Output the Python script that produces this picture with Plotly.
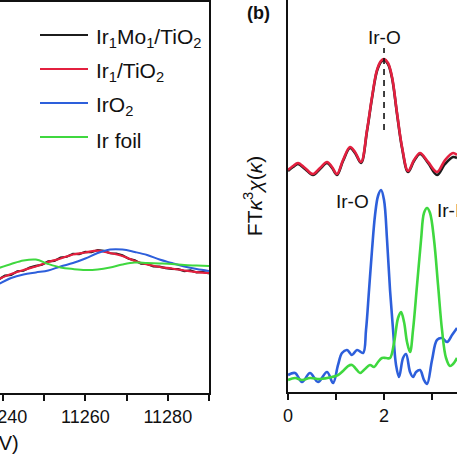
import plotly.graph_objects as go

W = H = 457
FONT = "Arial, 'Liberation Sans', sans-serif"

# ---------------- Panel (a): Ir L3-edge XANES ----------------
energy = [11239, 11242, 11245, 11248, 11251, 11254, 11257, 11260, 11263,
          11266, 11269, 11272, 11275, 11278, 11281, 11284, 11287, 11290]
ir1_tio2 = [0.875, 0.913, 0.944, 0.971, 1.005, 1.032, 1.063, 1.078, 1.093,
            1.074, 1.051, 1.013, 0.986, 0.967, 0.955, 0.940, 0.928, 0.921]
iro2 = [0.836, 0.882, 0.909, 0.925, 0.940, 0.971, 0.997, 1.032, 1.074,
        1.101, 1.101, 1.082, 1.059, 1.024, 0.997, 0.971, 0.951, 0.936]
ir_foil = [0.959, 0.990, 1.017, 1.024, 0.990, 0.963, 0.951, 0.944, 0.948,
           0.963, 0.986, 1.001, 0.997, 0.994, 0.990, 0.982, 0.978, 0.974]

energy_fine = [11239, 11240.5, 11242, 11243.5, 11245, 11246.5, 11248, 11249.5,
               11251, 11252.5, 11254, 11255.5, 11257, 11258.5, 11260, 11261.5,
               11263, 11264.5, 11266, 11267.5, 11269, 11270.5, 11272, 11273.5,
               11275, 11276.5, 11278, 11279.5, 11281, 11282.5, 11284, 11285.5,
               11287, 11288.5, 11290]
ir1mo1_tio2 = [0.872, 0.901, 0.905, 0.934, 0.938, 0.962, 0.975, 0.984,
               1.010, 1.014, 1.040, 1.045, 1.068, 1.066, 1.083, 1.080,
               1.097, 1.090, 1.072, 1.070, 1.056, 1.030, 1.018, 0.992,
               0.990, 0.972, 0.970, 0.958, 0.952, 0.950, 0.935, 0.940,
               0.925, 0.930, 0.918]

# ---------------- Panel (b): FT-EXAFS ----------------
r_top = [0.000, 0.104, 0.208, 0.354, 0.521, 0.667, 0.813, 0.917, 1.021, 1.146,
         1.292, 1.396, 1.521, 1.646, 1.750, 1.854, 1.938, 2.000, 2.083, 2.167,
         2.271, 2.375, 2.500, 2.625, 2.750, 2.917, 3.104, 3.271, 3.438, 3.521]
ft_ir1_tio2 = [2.265, 2.306, 2.337, 2.286, 2.224, 2.286, 2.347, 2.296, 2.224, 2.367,
               2.500, 2.449, 2.347, 2.673, 3.010, 3.286, 3.378, 3.398, 3.357, 3.214,
               2.847, 2.500, 2.255, 2.367, 2.439, 2.347, 2.245, 2.367, 2.439, 2.418]
ft_ir1mo1_tio2 = [2.255, 2.296, 2.327, 2.276, 2.214, 2.276, 2.337, 2.286, 2.214, 2.357,
                  2.490, 2.439, 2.337, 2.663, 3.000, 3.276, 3.368, 3.388, 3.347, 3.204,
                  2.837, 2.490, 2.245, 2.357, 2.429, 2.337, 2.214, 2.327, 2.398, 2.388]

r_iro2 = [0.000, 0.146, 0.292, 0.458, 0.625, 0.813, 0.938, 1.042, 1.125, 1.229,
          1.333, 1.438, 1.563, 1.625, 1.688, 1.750, 1.813, 1.875, 1.938, 2.000,
          2.063, 2.125, 2.188, 2.250, 2.313, 2.396, 2.458, 2.542, 2.604, 2.667,
          2.750, 2.833, 2.896, 3.000, 3.104, 3.208, 3.313, 3.417, 3.521]
ft_iro2 = [0.173, 0.194, 0.102, 0.194, 0.102, 0.204, 0.092, 0.276, 0.398, 0.429,
           0.378, 0.429, 0.398, 0.633, 1.041, 1.449, 1.806, 2.000, 2.061, 1.959,
           1.551, 1.041, 0.633, 0.276, 0.153, 0.347, 0.388, 0.204, 0.153, 0.204,
           0.224, 0.122, 0.082, 0.327, 0.531, 0.551, 0.510, 0.582, 0.653]

r_foil = [0.000, 0.146, 0.292, 0.458, 0.667, 0.917, 1.042, 1.146, 1.250, 1.333,
          1.417, 1.500, 1.604, 1.708, 1.792, 1.875, 1.958, 2.042, 2.125, 2.208,
          2.292, 2.354, 2.417, 2.479, 2.542, 2.604, 2.688, 2.771, 2.833, 2.896,
          2.958, 3.042, 3.125, 3.208, 3.292, 3.375, 3.438, 3.521]
ft_ir_foil = [0.122, 0.143, 0.122, 0.143, 0.133, 0.153, 0.173, 0.214, 0.265, 0.276,
              0.235, 0.194, 0.235, 0.276, 0.255, 0.306, 0.347, 0.347, 0.347, 0.500,
              0.755, 0.816, 0.714, 0.510, 0.408, 0.633, 1.092, 1.551, 1.827, 1.878,
              1.827, 1.551, 1.092, 0.633, 0.347, 0.265, 0.286, 0.347]

series_names = ["Ir<sub>1</sub>Mo<sub>1</sub>/TiO<sub>2</sub>",
                "Ir<sub>1</sub>/TiO<sub>2</sub>",
                "IrO<sub>2</sub>",
                "Ir foil"]
series_colors = ["#1c1c1c", "#e3203f", "#2d5fdb", "#3fd83f"]

peak_ir_o = 2.0

fig = go.Figure()

# panel (a)
fig.add_trace(go.Scatter(x=energy_fine, y=ir1mo1_tio2, mode="lines", name=series_names[0],
                         line=dict(color=series_colors[0], width=2.2), xaxis="x", yaxis="y",
                         showlegend=False))
fig.add_trace(go.Scatter(x=energy, y=ir1_tio2, mode="lines", name=series_names[1],
                         line=dict(color=series_colors[1], width=2.2, shape="spline"),
                         xaxis="x", yaxis="y", showlegend=False))
fig.add_trace(go.Scatter(x=energy, y=iro2, mode="lines", name=series_names[2],
                         line=dict(color=series_colors[2], width=2.0, shape="spline"),
                         xaxis="x", yaxis="y", showlegend=False))
fig.add_trace(go.Scatter(x=energy, y=ir_foil, mode="lines", name=series_names[3],
                         line=dict(color=series_colors[3], width=2.0, shape="spline"),
                         xaxis="x", yaxis="y", showlegend=False))

# panel (b)
fig.add_trace(go.Scatter(x=r_top, y=ft_ir1mo1_tio2, mode="lines", name=series_names[0],
                         line=dict(color=series_colors[0], width=2.6, shape="spline"),
                         xaxis="x2", yaxis="y2", showlegend=False))
fig.add_trace(go.Scatter(x=r_top, y=ft_ir1_tio2, mode="lines", name=series_names[1],
                         line=dict(color=series_colors[1], width=2.6, shape="spline"),
                         xaxis="x2", yaxis="y2", showlegend=False))
fig.add_trace(go.Scatter(x=r_iro2, y=ft_iro2, mode="lines", name=series_names[2],
                         line=dict(color=series_colors[2], width=2.6, shape="spline"),
                         xaxis="x2", yaxis="y2", showlegend=False))
fig.add_trace(go.Scatter(x=r_foil, y=ft_ir_foil, mode="lines", name=series_names[3],
                         line=dict(color=series_colors[3], width=2.6, shape="spline"),
                         xaxis="x2", yaxis="y2", showlegend=False))

# manual legend in panel (a)
shapes = []
annotations = []
legend_rows = [35, 69, 103, 137]
for name, color, row in zip(series_names, series_colors, legend_rows):
    shapes.append(dict(type="line", xref="paper", yref="paper",
                       x0=40 / W, x1=88 / W, y0=1 - row / H, y1=1 - row / H,
                       line=dict(color=color, width=2.2)))
    annotations.append(dict(text=name, xref="paper", yref="paper", x=94 / W,
                            y=1 - (row + 3) / H, xanchor="left", yanchor="middle",
                            showarrow=False, font=dict(size=21, color="#111", family=FONT)))

# dashed marker at Ir-O peak
shapes.append(dict(type="line", xref="x2", yref="y2", x0=peak_ir_o, x1=peak_ir_o,
                   y0=2.673, y1=3.51, line=dict(color="#111", width=1.6, dash="6px,5px")))

annotations += [
    dict(text="Ir-O", xref="x2", yref="y2", x=peak_ir_o, y=3.62, showarrow=False,
         xanchor="center", yanchor="middle", font=dict(size=19, color="#111", family=FONT)),
    dict(text="Ir-O", xref="x2", yref="y2", x=1.333, y=1.94, showarrow=False,
         xanchor="center", yanchor="middle", font=dict(size=19, color="#111", family=FONT)),
    dict(text="Ir-Ir", xref="x2", yref="y2", x=3.06, y=1.85, showarrow=False,
         xanchor="left", yanchor="middle", font=dict(size=19, color="#111", family=FONT)),
    dict(text="<b>(b)</b>", xref="paper", yref="paper", x=258 / W, y=1 - 13 / H,
         showarrow=False, xanchor="center", yanchor="middle",
         font=dict(size=18, color="#111", family=FONT)),
    dict(text="Energy (eV)", xref="paper", yref="paper", x=21 / W, y=1 - 443 / H,
         showarrow=False, xanchor="right", yanchor="middle",
         font=dict(size=20, color="#111", family=FONT)),
]

axis_common = dict(showgrid=False, zeroline=False, linecolor="#111", linewidth=1.8,
                   tickcolor="#111", tickwidth=1.5, automargin=False)

fig.update_layout(
    width=W, height=H,
    margin=dict(l=0, r=0, t=0, b=0),
    paper_bgcolor="white", plot_bgcolor="white",
    font=dict(family=FONT, color="#111", size=18),
    shapes=shapes, annotations=annotations,
    xaxis=dict(domain=[0, 209 / W], range=[11239.3, 11290], showline=True, mirror=True,
               ticks="outside", ticklen=6,
               tickvals=[11240, 11250, 11260, 11270, 11280, 11290],
               ticktext=["11240", "", "11260", "", "11280", ""],
               ticklabelstandoff=0, ticklabeloverflow="allow",
               tickfont=dict(size=18), anchor="y", **axis_common),
    yaxis=dict(domain=[1 - 393 / H, 1 - 2 / H], range=[0, 3.0], side="right",
               showline=True, ticks="", showticklabels=False, anchor="x", **axis_common),
    xaxis2=dict(domain=[288 / W, 1], range=[0, 3.52], showline=True, mirror=True,
                ticks="outside", ticklen=6, tickvals=[0, 1, 2, 3],
                ticktext=["0", "", "2", ""], ticklabelstandoff=0,
                ticklabeloverflow="allow",
                tickfont=dict(size=18), anchor="y2", **axis_common),
    yaxis2=dict(domain=[1 - 392 / H, 1], range=[0, 4], showline=True, ticks="",
                showticklabels=False, anchor="x2",
                title=dict(text="FT<i>κ</i><sup>3</sup><i>χ</i>(<i>κ</i>)",
                           font=dict(size=21), standoff=18), **axis_common),
)

fig.write_html("out.html")
